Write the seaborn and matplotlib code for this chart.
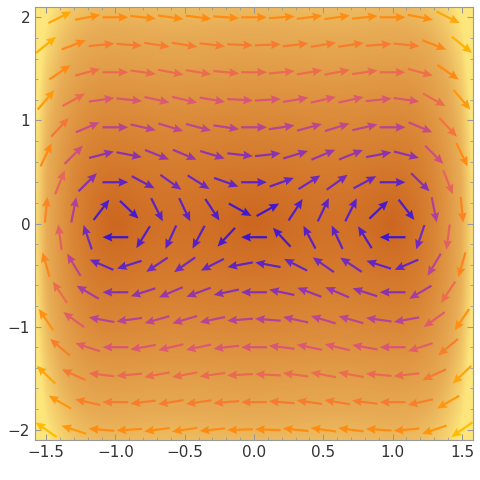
import numpy as np
import matplotlib
matplotlib.use("Agg")
import matplotlib.pyplot as plt
import seaborn as sns
from matplotlib.colors import LinearSegmentedColormap

sns.set_style("ticks")

# arrow rows (top to bottom); rows alternate between column set A and B
row_y = [2.0, 1.733, 1.467, 1.2, 0.933, 0.667, 0.4, 0.133,
         -0.133, -0.4, -0.667, -0.933, -1.2, -1.467, -1.733, -2.0]
x_a = [-1.4, -1.2, -1.0, -0.8, -0.6, -0.4, -0.2, 0.0, 0.2, 0.4, 0.6, 0.8, 1.0, 1.2, 1.4]
v_a = [1.344, 0.528, 0.0, -0.288, -0.384, -0.336, -0.192, 0.0,
       0.192, 0.336, 0.384, 0.288, 0.0, -0.528, -1.344]
x_b = [-1.5, -1.3, -1.1, -0.9, -0.7, -0.5, -0.3, -0.1,
       0.1, 0.3, 0.5, 0.7, 0.9, 1.1, 1.3, 1.5]
v_b = [1.875, 0.897, 0.231, -0.171, -0.357, -0.375, -0.273, -0.099,
       0.099, 0.273, 0.375, 0.357, 0.171, -0.231, -0.897, -1.875]

X, Y, U, V = [], [], [], []
for i, y in enumerate(row_y):
    xs, vs = (x_a, v_a) if i % 2 == 0 else (x_b, v_b)
    for x, v in zip(xs, vs):
        X.append(x); Y.append(y); U.append(y); V.append(v)
X, Y, U, V = map(np.array, (X, Y, U, V))
M = np.hypot(U, V)

arrow_cmap = LinearSegmentedColormap.from_list("arr", [
    (0.0, "#2a10d8"), (0.18, "#6a28c0"), (0.33, "#b0409c"), (0.46, "#de5a70"),
    (0.6, "#f2763c"), (0.73, "#ff8a12"), (1.0, "#ffbc00")])
bg_cmap = LinearSegmentedColormap.from_list("bg", [
    (0.0, "#cc6620"), (0.35, "#da8636"), (0.7, "#e8ad56"), (1.0, "#fde67c")])

# background density from the same field
xs_all = np.array(sorted(x_a + x_b))
vs_all = np.array([v for _, v in sorted(zip(x_a + x_b, v_a + v_b))])
xf = np.linspace(-1.58, 1.58, 300)
yf = np.linspace(-2.1, 2.1, 300)
XF, YF = np.meshgrid(xf, yf)
VF = np.interp(XF, xs_all, vs_all)
VF = np.where(XF < -1.5, vs_all[0] + (XF + 1.5) * -9.0, VF)
VF = np.where(XF > 1.5, vs_all[-1] + (XF - 1.5) * -9.0, VF)
MF = np.hypot(YF, VF)

fig = plt.figure(figsize=(4.8, 4.8), dpi=100)
ax = fig.add_axes([35 / 480, 40 / 480, 438 / 480, 433 / 480])
ax.imshow(MF, extent=(-1.58, 1.58, -2.1, 2.1), origin="lower", cmap=bg_cmap,
          vmin=0, vmax=2.74, aspect="auto", interpolation="bicubic")
# direction as drawn in data coordinates, fixed on-screen length
sx, sy = 438 / 3.16, 433 / 4.2
du, dv = U * sx, V * sy
n = np.hypot(du, dv); n[n == 0] = 1
ax.quiver(X, Y, du / n, dv / n, M, cmap=arrow_cmap, clim=(0, 2.74), angles="uv",
          pivot="middle", scale_units="width", scale=17, width=0.005,
          headwidth=4, headlength=4.5, headaxislength=4)
ax.set_xlim(-1.58, 1.58)
ax.set_ylim(-2.1, 2.1)
ax.set_xticks([-1.5, -1.0, -0.5, 0.0, 0.5, 1.0, 1.5])
ax.set_yticks([-2, -1, 0, 1, 2])
ax.set_xticks(np.arange(-1.5, 1.51, 0.1), minor=True)
ax.set_yticks(np.arange(-2, 2.01, 0.2), minor=True)
ax.tick_params(which="both", direction="in", top=True, right=True, color="#999999",
               labelsize=11, labelcolor="#333333")
ax.tick_params(which="minor", length=2)
ax.tick_params(which="major", length=4)
for s in ax.spines.values():
    s.set_color("#999999")
fig.savefig("out.png", dpi=100)
